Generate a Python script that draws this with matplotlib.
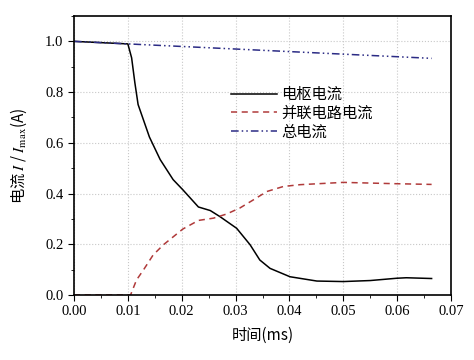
import matplotlib
matplotlib.use('Agg')
import matplotlib.pyplot as plt
from matplotlib.ticker import MultipleLocator

# Data
arm_t = [0.0, 0.005, 0.010, 0.0107, 0.0113, 0.0119, 0.0140, 0.0160, 0.0184, 0.0202, 0.0231,
         0.0253, 0.0271, 0.0302, 0.0327, 0.0345, 0.0364, 0.0401, 0.0451, 0.0500,
         0.0550, 0.0599, 0.0617, 0.0664]
arm_i = [1.0, 0.995, 0.99, 0.935, 0.837, 0.751, 0.623, 0.534, 0.455, 0.415, 0.347,
         0.333, 0.309, 0.263, 0.198, 0.138, 0.105, 0.072, 0.055, 0.053,
         0.057, 0.066, 0.068, 0.065]

par_t = [0.0, 0.0105, 0.0116, 0.0129, 0.0147, 0.0166, 0.0202, 0.0231, 0.0259, 0.0283,
         0.0308, 0.0333, 0.0358, 0.0389, 0.0420, 0.0500, 0.0593, 0.0664]
par_i = [0.0, 0.0, 0.059, 0.099, 0.158, 0.198, 0.260, 0.294, 0.303, 0.319,
         0.343, 0.375, 0.408, 0.428, 0.435, 0.444, 0.439, 0.436]

tot_t = [0.0, 0.010, 0.0664]
tot_i = [1.0, 0.99, 0.933]

labels = ['电枢电流', '并联电路电流', '总电流']

cjk = ['Noto Sans CJK SC', 'DejaVu Sans']
plt.rcParams['font.family'] = ['Liberation Serif']
plt.rcParams['mathtext.fontset'] = 'stix'

fig = plt.figure(figsize=(4.74, 3.6), dpi=100)
ax = fig.add_axes([74 / 474, 65 / 360, 377 / 474, 279 / 360])

ax.plot(arm_t, arm_i, color='black', lw=1.1, label=labels[0])
ax.plot(par_t, par_i, color='#b03a3a', lw=1.1, ls=(0, (4, 3)), label=labels[1])
ax.plot(tot_t, tot_i, color='#2b2b85', lw=1.1, ls=(0, (5, 2, 1, 2, 1, 2)), label=labels[2])

ax.set_xlim(0, 0.07)
ax.set_ylim(0, 1.1)
ax.xaxis.set_major_locator(MultipleLocator(0.01))
ax.xaxis.set_minor_locator(MultipleLocator(0.005))
ax.yaxis.set_major_locator(MultipleLocator(0.2))
ax.yaxis.set_minor_locator(MultipleLocator(0.1))
ax.xaxis.set_major_formatter(plt.FuncFormatter(lambda v, p: '%.2f' % v))
ax.yaxis.set_major_formatter(plt.FuncFormatter(lambda v, p: '%.1f' % v))
ax.tick_params(which='both', direction='out', labelsize=10.5, top=False, right=False)
ax.tick_params(which='major', length=4)
ax.tick_params(which='minor', length=2.5)
for s in ax.spines.values():
    s.set_linewidth(1.2)

ax.grid(True, which='major', color='#c8c8c8', ls=':', lw=0.8)

ax.set_xlabel('时间(ms)', family=cjk, fontsize=11, labelpad=6)
ax.set_ylabel(r'电流 $I$ / $I_{\rm max}$(A)', family=cjk, fontsize=11, labelpad=12)

leg = ax.legend(loc='upper left', bbox_to_anchor=(0.4, 0.77), frameon=False,
                prop={'family': cjk, 'size': 11}, handlelength=3.0,
                handletextpad=0.3, labelspacing=0.1, borderaxespad=0)

fig.savefig('out.png', dpi=100)
